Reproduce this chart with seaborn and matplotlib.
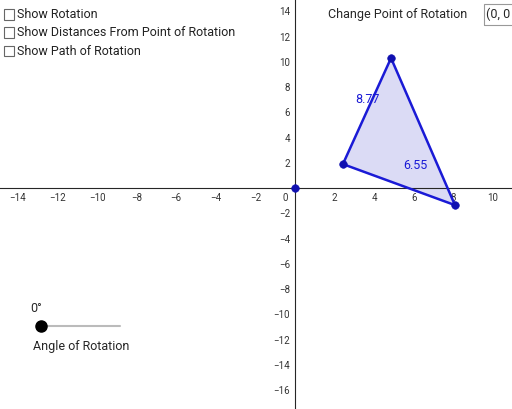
import matplotlib
matplotlib.use("Agg")
import matplotlib.pyplot as plt
import seaborn as sns
import numpy as np
from matplotlib.patches import Rectangle

sns.set_style("white")
plt.rcParams['font.family'] = ['Roboto', 'DejaVu Sans']

tri_x = [2.42, 4.85, 8.08]
tri_y = [1.9, 10.3, -1.35]
side_labels = ["8.77", "6.55"]
label_x = [3.65, 6.1]
label_y = [7.0, 1.75]
xticks = [-14, -12, -10, -8, -6, -4, -2, 2, 4, 6, 8, 10]
yticks = [-16, -14, -12, -10, -8, -6, -4, -2, 2, 4, 6, 8, 10, 12, 14]
checkboxes = ["Show Rotation", "Show Distances From Point of Rotation", "Show Path of Rotation"]

fig = plt.figure(figsize=(5.12, 4.09), dpi=100)
ax = fig.add_axes([0, 0, 1, 1])
ax.set_xlim(-14.9, 10.96)
ax.set_ylim(-17.5, 14.9)
for s in ["top", "right"]:
    ax.spines[s].set_visible(False)
ax.spines["left"].set_position(("data", 0))
ax.spines["bottom"].set_position(("data", 0))
ax.set_xticks(xticks)
ax.set_yticks(yticks)
ax.tick_params(labelsize=7, colors="#333333", length=3, direction="inout", pad=2)
ax.text(-0.35, -0.35, "0", fontsize=7, ha="right", va="top", color="#333333")

xs = tri_x + [tri_x[0]]
ys = tri_y + [tri_y[0]]
ax.fill(tri_x, tri_y, color="#ccccf2", alpha=0.7, zorder=2)
ax.plot(xs, ys, color="#1a1ad6", lw=1.8, zorder=3)
sns.scatterplot(x=tri_x + [0], y=tri_y + [0], color="#1010b0", s=30, ax=ax, zorder=4, edgecolor="#1010b0")
for t, x, y in zip(side_labels, label_x, label_y):
    ax.text(x, y, t, color="#1a1ad6", fontsize=9, ha="center", va="center")

for i, t in enumerate(checkboxes):
    y = 0.982 - i * 0.045
    fig.patches.append(Rectangle((0.008, y - 0.03), 0.02, 0.026, transform=fig.transFigure,
                                 fill=False, ec="#666666", lw=0.8))
    fig.text(0.034, y - 0.017, t, fontsize=9, va="center", color="#222222")

fig.text(0.64, 0.965, "Change Point of Rotation", fontsize=9, va="center")
fig.patches.append(Rectangle((0.945, 0.94), 0.07, 0.05, transform=fig.transFigure,
                             fill=False, ec="#999999", lw=0.8))
fig.text(0.95, 0.965, "(0, 0", fontsize=9, va="center")

fig.text(0.06, 0.245, "0°", fontsize=9, va="center")
fig.lines.append(plt.Line2D([0.08, 0.235], [0.203, 0.203], transform=fig.transFigure, color="#bbbbbb", lw=1.5))
fig.lines.append(plt.Line2D([0.08], [0.203], transform=fig.transFigure, marker="o", ms=8, color="black"))
fig.text(0.065, 0.152, "Angle of Rotation", fontsize=9, va="center")

fig.savefig("out.png", dpi=100)
